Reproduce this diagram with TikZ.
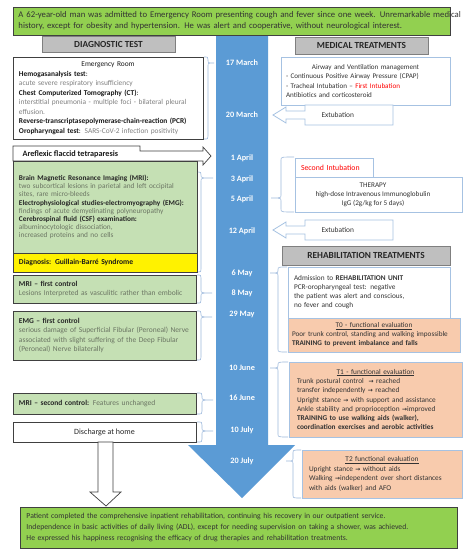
\documentclass[tikz,border=0pt]{standalone}
\usepackage{fontspec}
\setmainfont{Carlito}
\newfontfamily\symf{DejaVu Sans}
\usetikzlibrary{calc}
\definecolor{topgreen}{HTML}{92D050}
\definecolor{lgreen}{HTML}{C5E0B4}
\definecolor{hdrgray}{HTML}{BFBFBF}
\definecolor{hdrline}{HTML}{7F7F7F}
\definecolor{arrowblue}{HTML}{5B9BD5}
\definecolor{lblue}{HTML}{A6C2E2}
\definecolor{bracec}{HTML}{9DB9DC}
\definecolor{peach}{HTML}{F8CBAD}
\definecolor{darkline}{HTML}{404040}
\definecolor{desc}{HTML}{808080}
\definecolor{gdesc}{HTML}{6B7563}
\definecolor{txt}{HTML}{333333}
\newcommand{\arr}{{\symf\bfseries\fontsize{6}{8}\selectfont →}}
\newcommand{\bkt}[6]{\draw[bracestyle] (#1,#4) .. controls (#2,#4) .. (#2,{#4+3}) -- (#2,{#6-3}) .. controls (#2,#6) .. (#3,#6) .. controls (#2,#6) .. (#2,{#6+3}) -- (#2,{#5-3}) .. controls (#2,#5) .. (#1,#5);}
\tikzset{
  base/.style={anchor=north west, inner sep=0pt, outer sep=0pt, line width=0.7pt},
  darkbox/.style={base, draw=darkline},
  bluebox/.style={base, draw=lblue, line width=0.8pt},
  header/.style={base, draw=hdrline, fill=hdrgray, font=\fontsize{9.3}{11}\selectfont\bfseries, text=black!85, align=center},
  datelabel/.style={text=white, font=\fontsize{8.2}{9}\selectfont\bfseries},
  bracestyle/.style={draw=bracec, line width=0.6pt},
  hollow/.style={line width=0.7pt, fill=white},
}
\begin{document}
\begin{tikzpicture}[x=1pt,y=-1pt]
\useasboundingbox (0,0) rectangle (474,558);
\fill[white] (0,0) rectangle (474,558);

% timeline arrow
\fill[arrowblue] (216,35) -- (268,35) -- (268,445) -- (295,445) -- (242,498) -- (188,445) -- (216,445) -- cycle;

% intro
\node[darkbox, fill=topgreen, minimum width=437pt, minimum height=28pt, text width=426pt, align=left, font=\fontsize{8.7}{11}\selectfont, text=txt] (intro) at (13,7) {\mbox{A 62-year-old man was admitted to Emergency Room presenting cough and fever since one week. Unremarkable medical}\\history, except for obesity and hypertension. He was alert and cooperative, without neurological interest.};

% headers
\node[header, minimum width=133pt, minimum height=16pt] (hdiag) at (42,36) {DIAGNOSTIC TEST};
\node[header, minimum width=133pt, minimum height=17pt] (hmed) at (295,37) {MEDICAL TREATMENTS};
\node[header, minimum width=168pt, minimum height=19pt] (hreh) at (282,246) {REHABILITATION TREATMENTS};

% dates
\node[datelabel] (d1) at (242,63) {17 March};
\node[datelabel] (d2) at (242,115) {20 March};
\node[datelabel] (d3) at (242,158) {1 April};
\node[datelabel] (d4) at (242,179) {3 April};
\node[datelabel] (d5) at (242,199) {5 April};
\node[datelabel] (d6) at (242,231) {12 April};
\node[datelabel] (d7) at (242,273) {6 May};
\node[datelabel] (d8) at (242,293) {8 May};
\node[datelabel] (d9) at (242,314) {29 May};
\node[datelabel] (d10) at (242,368) {10 June};
\node[datelabel] (d11) at (242,398) {16 June};
\node[datelabel] (d12) at (242,430) {10 July};
\node[datelabel] (d13) at (242,461) {20 July};

% left column
\node[darkbox, fill=white, minimum width=190pt, minimum height=82pt, text width=178pt, align=left, font=\fontsize{7.4}{9.5}\selectfont, text=black!90] (er) at (13,57) {\makebox[178pt]{Emergency Room}\\ \textbf{Hemogasanalysis test}:\\ \textcolor{desc}{acute severe respiratory insufficiency}\\ \textbf{Chest Computerized Tomography (CT)}:\\ \textcolor{desc}{interstitial pneumonia - multiple foci - bilateral pleural}\\ \textcolor{desc}{effusion.}\\ \textbf{Reverse-transcriptasepolymerase-chain-reaction (PCR)}\\ \textbf{Oropharyngeal test}: \textcolor{desc}{SARS-CoV-2 infection positivity}};

\draw[darkline, hollow] (13,146) -- (140,146) -- (140,151) -- (203,151) -- (203,147) -- (211,156) -- (203,165) -- (203,161) -- (13,161) -- cycle;
\node[anchor=west, font=\fontsize{8.2}{9}\selectfont\bfseries, text=black!90] (arefl) at (19,154) {Areflexic flaccid tetraparesis};

\node[darkbox, fill=lgreen, minimum width=184pt, minimum height=92pt, text width=172pt, align=left, font=\fontsize{7.3}{8.2}\selectfont, text=black!85] (gb) at (13,161) {\textbf{Brain Magnetic Resonance Imaging (MRI):}\\ \textcolor{gdesc}{two subcortical lesions in parietal and left occipital}\\ \textcolor{gdesc}{sites, rare micro-bleeds}\\ \textbf{Electrophysiological studies-electromyography (EMG):}\\ \textcolor{gdesc}{findings of acute demyelinating polyneuropathy}\\ \textbf{Cerebrospinal fluid (CSF) examination:}\\ \textcolor{gdesc}{albuminocytologic dissociation,}\\ \textcolor{gdesc}{increased proteins and no cells}};
\node[darkbox, fill=yellow, minimum width=184pt, minimum height=19pt, text width=172pt, align=left, font=\fontsize{7.6}{9}\selectfont\bfseries, text=black!90] (diag) at (13,253) {Diagnosis: Guillain-Barré Syndrome};

\node[darkbox, fill=lgreen, minimum width=183pt, minimum height=28pt, text width=171pt, align=left, font=\fontsize{7.5}{9.5}\selectfont, text=black!85] (mri1) at (13,275) {\textbf{MRI -- first control}\\ \textcolor{gdesc}{Lesions Interpreted as vasculitic rather than embolic}};
\node[darkbox, fill=lgreen, minimum width=183pt, minimum height=49pt, text width=171pt, align=left, font=\fontsize{7.5}{9.5}\selectfont, text=black!85] (emg1) at (13,311) {\textbf{EMG -- first control}\\ \textcolor{gdesc}{serious damage of Superficial Fibular (Peroneal) Nerve}\\ \textcolor{gdesc}{associated with slight suffering of the Deep Fibular}\\ \textcolor{gdesc}{(Peroneal) Nerve bilaterally}};
\node[darkbox, fill=lgreen, minimum width=183pt, minimum height=21pt, text width=171pt, align=left, font=\fontsize{7.5}{9}\selectfont, text=black!85] (mri2) at (13,393) {\textbf{MRI -- second control:} \textcolor{gdesc}{Features unchanged}};
\node[darkbox, fill=white, minimum width=183pt, minimum height=20pt, align=center, font=\fontsize{8}{9}\selectfont, text=black!85] (dis) at (13,422) {Discharge at home};

% hollow arrow to the outcome
\draw[darkline, hollow] (98,442) -- (113,442) -- (113,492) -- (121,492) -- (106,506) -- (90,492) -- (98,492) -- cycle;

% outcome
\node[darkbox, fill=topgreen, minimum width=437pt, minimum height=41pt, text width=424pt, align=left, font=\fontsize{7.7}{11.3}\selectfont, text=txt] (out) at (20,507) {\makebox[424pt][s]{Patient completed the comprehensive inpatient rehabilitation, continuing his recovery in our outpatient service.}\\Independence in basic activities of daily living (ADL), except for needing supervision on taking a shower, was achieved.\\He expressed his happiness recognising the efficacy of drug therapies and rehabilitation treatments.};

% right column
\node[bluebox, fill=white, minimum width=169pt, minimum height=48pt, text width=159pt, align=left, font=\fontsize{7.1}{9.4}\selectfont, text=txt] (air) at (281,57) {\makebox[159pt]{Airway and Ventilation management}\\ - Continuous Positive Airway Pressure (CPAP)\\ - Tracheal Intubation -- \textcolor{red}{First Intubation}\\ Antibiotics and corticosteroid};

\draw[draw=lblue, hollow, line width=0.8pt] (393,105) -- (393,125) -- (305,125) -- (305,119) -- (286,119) -- (286,123) -- (273,115) -- (286,107) -- (286,111) -- (305,111) -- (305,105) -- cycle;
\node[anchor=west, font=\fontsize{7.4}{8}\selectfont, text=txt] (ext1) at (318,115) {Extubation};

\node[bluebox, fill=white, minimum width=78pt, minimum height=19pt, text width=66pt, align=left, font=\fontsize{7.8}{9}\selectfont, text=red] (int2) at (295,158) {Second Intubation};
\node[bluebox, fill=white, minimum width=167pt, minimum height=35pt] (ther) at (295,177) {};
\node[align=center, font=\fontsize{7.2}{9}\selectfont, text=txt] (thert) at (373,194.5) {THERAPY\\high-dose Intravenous Immunoglobulin\\IgG (2g/kg for 5 days)};

\draw[draw=lblue, hollow, line width=0.8pt] (393,220) -- (393,240) -- (305,240) -- (305,234) -- (286,234) -- (286,238) -- (273,230) -- (286,222) -- (286,226) -- (305,226) -- (305,220) -- cycle;
\node[anchor=west, font=\fontsize{7.4}{8}\selectfont, text=txt] (ext2) at (318,230) {Extubation};

\node[bluebox, fill=white, minimum width=162pt, minimum height=51pt, text width=150pt, align=left, font=\fontsize{7.3}{9}\selectfont, text=txt] (adm) at (288,267) {Admission to \textbf{REHABILITATION UNIT}\\PCR-oropharyngeal test: negative\\the patient was alert and conscious,\\no fever and cough};
\node[bluebox, fill=peach, minimum width=172pt, minimum height=34pt, text width=164pt, align=left, font=\fontsize{7.2}{9}\selectfont, text=txt] (t0) at (288,318) {\makebox[164pt]{\underline{T0 - functional evaluation}}\\Poor trunk control, standing and walking impossible\\\textbf{TRAINING to prevent imbalance and falls}};
\node[bluebox, fill=peach, minimum width=173pt, minimum height=75pt, text width=157pt, align=left, font=\fontsize{7.3}{9.3}\selectfont, text=txt] (t1) at (289,362) {\makebox[157pt]{\underline{T1 - functional evaluation}}\\Trunk postural control\ \ \arr\ reached\\transfer independently \arr\ reached\\Upright stance \arr\ with support and assistance\\Ankle stability and proprioception \arr improved\\\textbf{TRAINING to use walking aids (walker),}\\\textbf{coordination exercises and aerobic activities}};
\node[bluebox, fill=peach, minimum width=160pt, minimum height=48pt, text width=146pt, align=left, font=\fontsize{7.3}{9.5}\selectfont, text=txt] (t2) at (302,450) {\makebox[146pt]{\underline{T2 functional evaluation}}\\Upright stance \arr\ without aids\\Walking \arr independent over short distances\\with aids (walker) and AFO};

% braces (left column -> timeline)
\bkt{204}{208}{214}{57}{139}{63}
\bkt{198}{201}{213}{172}{272}{178}
\bkt{197}{201}{212}{275}{303}{293}
\bkt{197}{201}{212}{311}{360}{317}
\bkt{197}{202}{213}{393}{414}{400}
\bkt{197}{202}{213}{422}{442}{431}
% braces (right column -> timeline)
\bkt{294}{281}{271}{157}{212}{198}
\bkt{287}{278}{270}{267}{352}{273}
\bkt{288}{278}{270}{362}{437}{368}
\bkt{301}{293}{286}{450}{498}{461}
\end{tikzpicture}
\end{document}
